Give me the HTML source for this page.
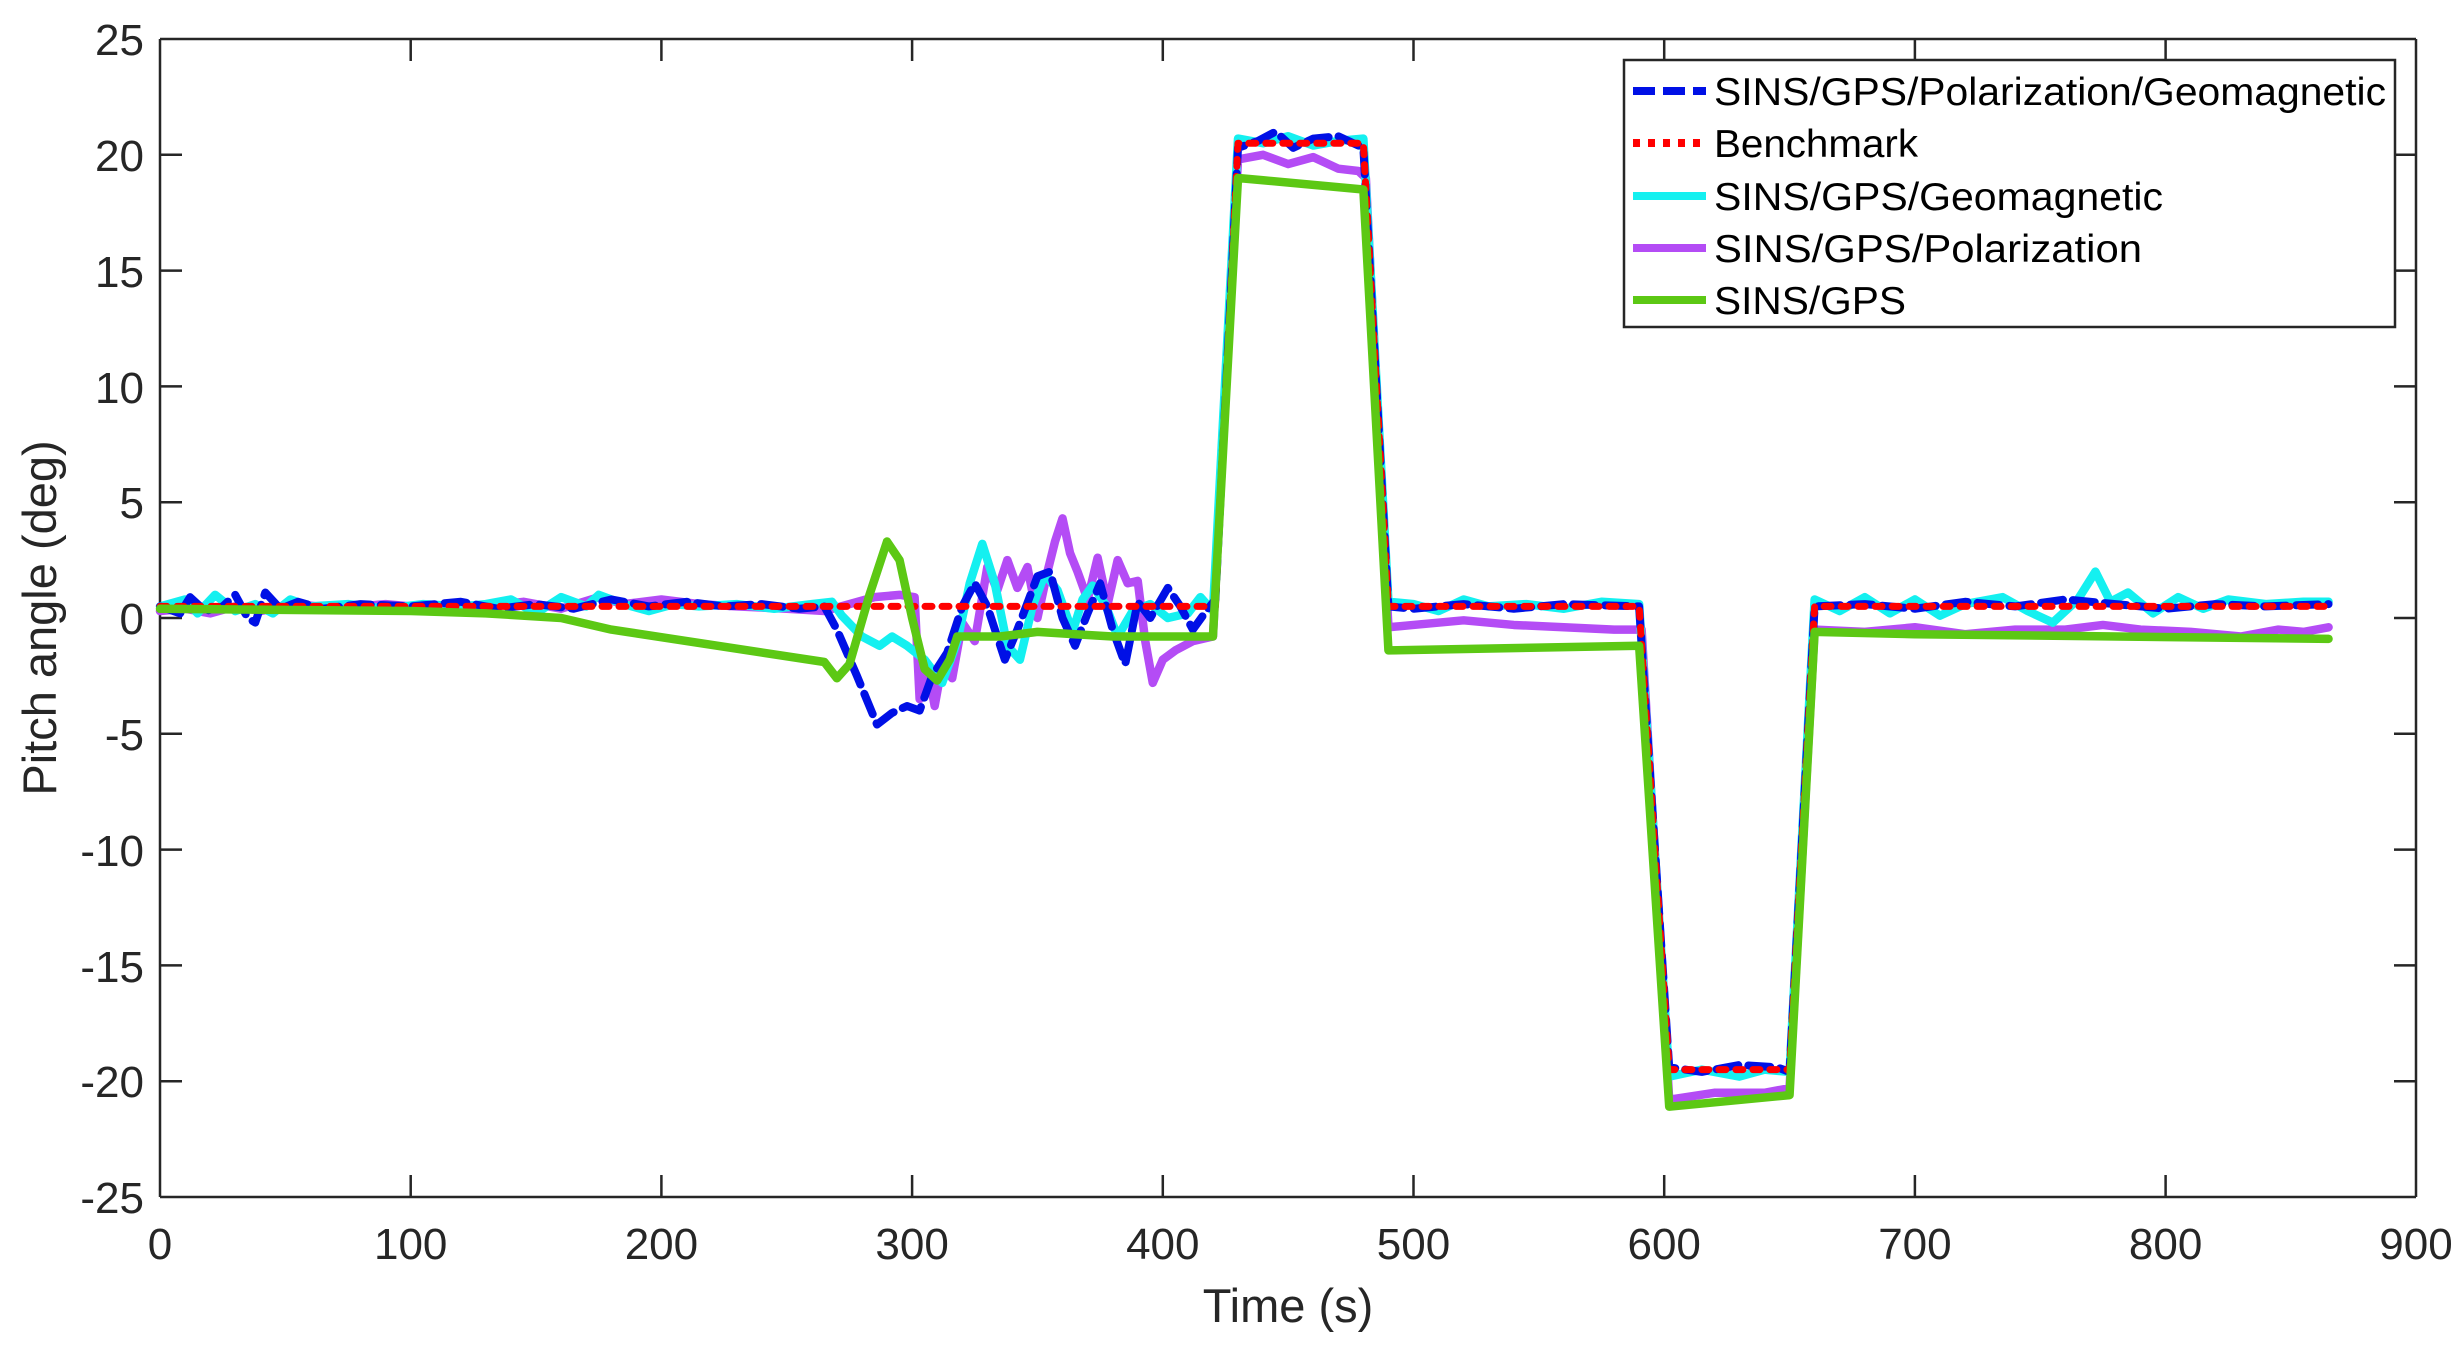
<!DOCTYPE html>
<html><head><meta charset="utf-8"><style>
html,body{margin:0;padding:0;background:#fff;}
svg{display:block;}
text{font-family:"Liberation Sans",Arial,sans-serif;fill:#262626;}
.d{fill:none;stroke-linejoin:round;stroke-linecap:round;vector-effect:non-scaling-stroke;}
</style></head><body>
<svg width="2459" height="1346" viewBox="0 0 2459 1346" xmlns="http://www.w3.org/2000/svg">
<rect width="2459" height="1346" fill="#fff"/>
<g stroke="#262626" stroke-width="2.5">
<line x1="160" y1="1197" x2="2416" y2="1197"/>
<line x1="160" y1="39" x2="2416" y2="39"/>
<line x1="160" y1="39" x2="160" y2="1197"/>
<line x1="2416" y1="39" x2="2416" y2="1197"/>
</g>
<g stroke="#262626" stroke-width="2.5">
<path d="M410.7,1197v-22M661.4,1197v-22M912.1,1197v-22M1162.8,1197v-22M1413.5,1197v-22M1664.2,1197v-22M1914.9,1197v-22M2165.6,1197v-22
M410.7,39v22M661.4,39v22M912.1,39v22M1162.8,39v22M1413.5,39v22M1664.2,39v22M1914.9,39v22M2165.6,39v22
M160,154.8h22M160,270.6h22M160,386.4h22M160,502.2h22M160,618h22M160,733.8h22M160,849.6h22M160,965.4h22M160,1081.2h22
M2416,154.8h-22M2416,270.6h-22M2416,386.4h-22M2416,502.2h-22M2416,618h-22M2416,733.8h-22M2416,849.6h-22M2416,965.4h-22M2416,1081.2h-22"/>
</g>
<g font-size="44" text-anchor="end">
<text x="144" y="55">25</text><text x="144" y="171">20</text><text x="144" y="287">15</text><text x="144" y="403">10</text>
<text x="144" y="518">5</text><text x="144" y="634">0</text><text x="144" y="750">-5</text><text x="144" y="866">-10</text>
<text x="144" y="982">-15</text><text x="144" y="1097">-20</text><text x="144" y="1213">-25</text>
</g>
<g font-size="44" text-anchor="middle">
<text x="160" y="1259">0</text><text x="410.7" y="1259">100</text><text x="661.4" y="1259">200</text><text x="912.1" y="1259">300</text>
<text x="1162.8" y="1259">400</text><text x="1413.5" y="1259">500</text><text x="1664.2" y="1259">600</text><text x="1914.9" y="1259">700</text>
<text x="2165.6" y="1259">800</text><text x="2416" y="1259">900</text>
</g>
<text x="1288" y="1322" font-size="47" text-anchor="middle">Time (s)</text>
<text transform="translate(56,618) rotate(-90)" font-size="47" text-anchor="middle">Pitch angle (deg)</text>

<g transform="translate(160,618) scale(2.507,-23.16)">
<polyline class="d" stroke="#b44cf5" stroke-width="8.5" points="0,0.3 10,0.4 20,0.2 30,0.5 40,0.3 55,0.6 70,0.4 90,0.6 110,0.4 130,0.5 145,0.7 160,0.4 175,0.9 185,0.6 200,0.8 215,0.6 230,0.5 250,0.4 265,0.3 275,0.6 285,0.9 295,1.0 301,0.9 303,-3.5 306,-2 309,-3.8 312,-2 316,-2.6 320,-0.2 325,-1 330,2.2 334,1.2 338,2.5 342,1.3 346,2.2 350,0 354,2 357,3.3 360,4.3 363,2.8 366,2 370,0.8 374,2.6 378,0.6 382,2.5 386,1.5 390,1.6 393,-1 396,-2.8 400,-1.8 405,-1.4 412,-1 420,-0.8 430,19.8 440,20.0 450,19.6 460,19.9 470,19.4 478,19.3 481,19.0 490,-0.4 500,-0.3 520,-0.1 540,-0.3 560,-0.4 580,-0.5 591,-0.5 602,-20.8 620,-20.5 640,-20.5 650,-20.3 660,-0.5 680,-0.6 700,-0.4 720,-0.7 740,-0.5 760,-0.5 775,-0.3 790,-0.5 810,-0.6 830,-0.8 845,-0.5 855,-0.6 865,-0.4"/>
<polyline class="d" stroke="#14f0f0" stroke-width="8.5" points="0,0.5 10,0.8 15,0.2 22,1.0 30,0.3 38,0.6 45,0.2 52,0.8 60,0.5 75,0.6 90,0.4 105,0.6 120,0.5 130,0.6 140,0.8 150,0.2 160,0.9 170,0.5 175,1.0 185,0.6 195,0.3 205,0.6 215,0.5 230,0.6 245,0.4 260,0.6 268,0.7 272,0.1 280,-0.8 287,-1.2 292,-0.8 298,-1.2 305,-1.8 312,-2.8 318,-1 323,1.5 328,3.2 333,1.5 338,-1.2 343,-1.8 348,0.5 353,1.9 358,1.2 364,-0.6 368,0.8 372,1.4 377,0.6 382,-0.8 388,0.3 395,0.6 402,0 410,0.2 415,0.9 420,0.3 430,20.7 440,20.5 450,20.8 460,20.4 470,20.6 480,20.7 490,0.7 500,0.6 510,0.3 520,0.8 530,0.5 545,0.6 560,0.4 575,0.7 590,0.6 602,-19.8 615,-19.5 630,-19.8 640,-19.5 650,-19.6 660,0.8 670,0.3 680,0.9 690,0.2 700,0.8 710,0.1 720,0.6 735,0.9 745,0.3 755,-0.2 765,0.8 772,2.0 778,0.7 785,1.1 795,0.2 805,0.9 815,0.4 825,0.8 840,0.6 855,0.7 865,0.7"/>
<polyline class="d" stroke="#0010e6" stroke-width="8" stroke-dasharray="22,10" points="0,0.5 8,0.2 12,0.9 18,0.3 25,0.5 30,1.0 35,0.0 38,-0.2 42,1.1 48,0.4 55,0.7 65,0.4 80,0.6 100,0.5 120,0.7 135,0.4 150,0.6 165,0.4 180,0.8 195,0.5 210,0.7 225,0.5 240,0.6 255,0.4 265,0.5 270,-0.5 278,-2.5 286,-4.6 292,-4.1 298,-3.8 303,-4.0 308,-2.5 314,-1.5 320,0.5 325,1.5 330,0.5 337,-1.8 342,-0.5 350,1.8 355,2.0 360,0 365,-1.2 370,0.2 375,1.5 380,-0.5 385,-2 390,0.7 395,0 402,1.3 407,0.5 412,-0.5 418,0.4 421,0.8 430,20.3 438,20.6 445,21.0 452,20.3 460,20.7 470,20.8 480,20.3 490,0.5 500,0.4 520,0.6 540,0.4 560,0.6 590,0.5 602,-19.4 615,-19.6 630,-19.3 645,-19.4 650,-19.6 660,0.5 680,0.6 700,0.4 720,0.7 740,0.5 760,0.8 780,0.6 800,0.4 820,0.6 840,0.5 865,0.6"/>
<polyline class="d" stroke="#ff0000" stroke-width="7" stroke-dasharray="7,10" stroke-linecap="butt" points="0,0.5 421,0.5 430,20.5 480,20.5 490,0.5 590,0.5 602,-19.5 650,-19.5 660,0.5 865,0.5"/>
<polyline class="d" stroke="#5cc814" stroke-width="8.5" points="0,0.4 100,0.3 130,0.2 160,0.0 180,-0.5 265,-1.9 270,-2.6 275,-2.0 283,1 290,3.3 295,2.5 300,0 305,-2.2 310,-2.7 315,-1.8 318,-0.8 335,-0.8 350,-0.6 365,-0.7 380,-0.8 420,-0.8 430,19 440,18.9 480,18.5 490,-1.4 590,-1.2 602,-21.1 650,-20.6 660,-0.6 700,-0.7 865,-0.9"/>
</g>

<rect x="1624" y="60" width="771" height="267" fill="#fff" stroke="#262626" stroke-width="2.5"/>
<g stroke-width="8">
<line x1="1633" y1="91" x2="1706" y2="91" stroke="#0010e6" stroke-dasharray="22,8"/>
<line x1="1633" y1="143" x2="1706" y2="143" stroke="#ff0000" stroke-dasharray="7,8"/>
<line x1="1633" y1="196" x2="1706" y2="196" stroke="#14f0f0"/>
<line x1="1633" y1="248" x2="1706" y2="248" stroke="#b44cf5"/>
<line x1="1633" y1="300" x2="1706" y2="300" stroke="#5cc814"/>
</g>
<g font-size="39">
<text x="1714" y="105" textLength="672" lengthAdjust="spacingAndGlyphs" style="fill:#000">SINS/GPS/Polarization/Geomagnetic</text>
<text x="1714" y="157" textLength="204" lengthAdjust="spacingAndGlyphs" style="fill:#000">Benchmark</text>
<text x="1714" y="210" textLength="449" lengthAdjust="spacingAndGlyphs" style="fill:#000">SINS/GPS/Geomagnetic</text>
<text x="1714" y="262" textLength="428" lengthAdjust="spacingAndGlyphs" style="fill:#000">SINS/GPS/Polarization</text>
<text x="1714" y="314" textLength="192" lengthAdjust="spacingAndGlyphs" style="fill:#000">SINS/GPS</text>
</g>
</svg>
</body></html>
